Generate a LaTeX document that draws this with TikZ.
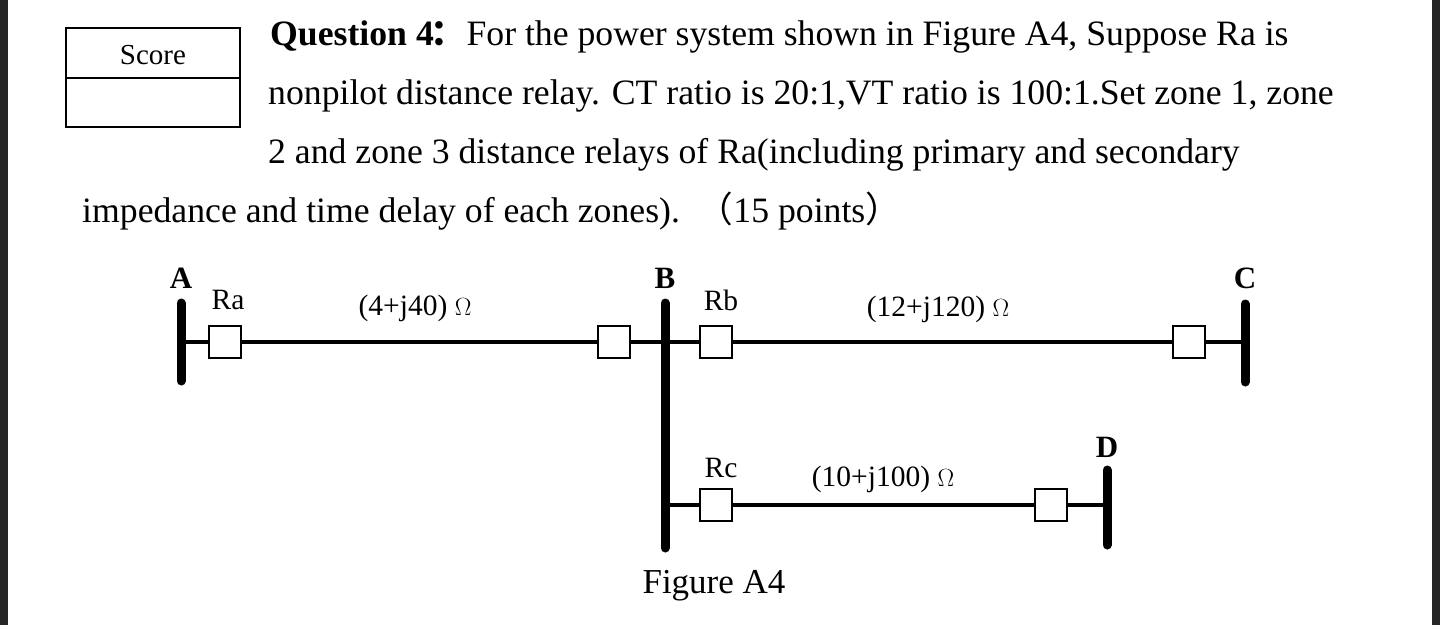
\documentclass[tikz,border=0pt]{standalone}
\usepackage{fontspec}
\setmainfont{Liberation Serif}
\newfontfamily\cjk{Noto Sans CJK SC}
\begin{document}
\begin{tikzpicture}[x=1pt,y=-1pt,
  txt/.style={anchor=base west,inner sep=0,font=\fontsize{35.7}{40}\selectfont},
  lab/.style={inner sep=0,font=\fontsize{29.5}{33}\selectfont},
  blab/.style={inner sep=0,font=\fontsize{31}{34}\selectfont\bfseries},
  bus/.style={line width=9pt,line cap=round},
  ln/.style={line width=4pt},
  rel/.style={draw,line width=2.5pt,fill=white,minimum size=32pt,inner sep=0}]
\useasboundingbox (0,0) rectangle (1440,625);
\fill[black!85] (0,0) rectangle (8,625);
\fill[black!85] (1432,0) rectangle (1440,625);
% score box
\draw[line width=2.5pt] (66,28) rectangle (240,127);
\draw[line width=2pt] (66,78) -- (240,78);
\node[lab,font=\fontsize{29}{32}\selectfont] (score) at (153,55) {Score};
% text
\node[txt] (t1) at (270,45) {\textbf{Question 4}{\cjk\bfseries\kern-3pt：}For the power system shown in Figure A4, Suppose Ra is};
\node[txt] (t2) at (268,104) {nonpilot distance relay. CT ratio is 20:1,VT ratio is 100:1.Set zone 1, zone};
\node[txt] (t3) at (268,163) {2 and zone 3 distance relays of Ra(including primary and secondary};
\node[txt] (t4) at (82,222) {impedance and time delay of each zones).\ \ {\cjk （}15 points{\cjk ）}};
% buses
\coordinate (At) at (181,303); \coordinate (Ab) at (181,381);
\coordinate (Bt) at (665,303); \coordinate (Bb) at (665,548);
\coordinate (Ct) at (1245,304); \coordinate (Cb) at (1245,382);
\coordinate (Dt) at (1107,470); \coordinate (Db) at (1107,545);
\coordinate (A) at (181,342); \coordinate (C) at (1245,342);
\coordinate (B2) at (665,505); \coordinate (D) at (1107,505);
\draw[ln] (A) -- (C);
\draw[ln] (B2) -- (D);
\draw[bus] (At) -- (Ab);
\draw[bus] (Bt) -- (Bb);
\draw[bus] (Ct) -- (Cb);
\draw[bus] (Dt) -- (Db);
\node[rel] (ra) at (225,342) {};
\node[rel] (rba) at (614,342) {};
\node[rel] (rb) at (716,342) {};
\node[rel] (rcb) at (1189,342) {};
\node[rel] (rc) at (716,505) {};
\node[rel] (rdc) at (1051,505) {};
% labels
\node[blab] (la) at (181,278) {A};
\node[blab] (lb) at (665,278) {B};
\node[blab] (lc) at (1245,278) {C};
\node[blab] (ld) at (1107,447) {D};
\node[lab] (lra) at (228,300) {Ra};
\node[lab] (lrb) at (721,300) {Rb};
\node[lab] (lrc) at (721,468) {Rc};
\node[lab] (z1) at (415,308) {(4+j40) $\Omega$};
\node[lab] (z2) at (938,309) {(12+j120) $\Omega$};
\node[lab] (z3) at (883,479) {(10+j100) $\Omega$};
\node[lab,font=\fontsize{35}{40}\selectfont] (fig) at (714,586) {Figure A4};
\end{tikzpicture}
\end{document}
